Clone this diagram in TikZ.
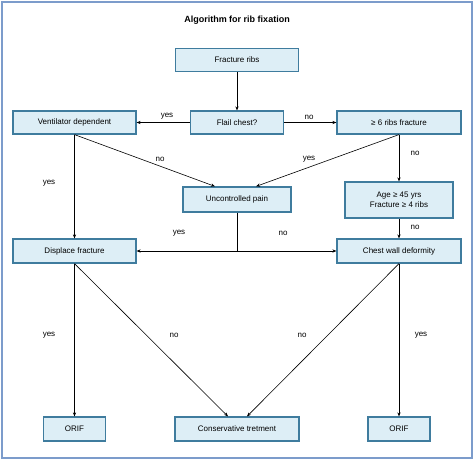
\documentclass[tikz,border=0pt]{standalone}
\usepackage{fontspec}
\setmainfont{Liberation Sans}
\usetikzlibrary{arrows.meta,calc}
\definecolor{boxfill}{HTML}{DDEEF6}
\definecolor{boxline}{HTML}{3F7C9E}
\definecolor{frameblue}{HTML}{7C9CCB}
\begin{document}
\begin{tikzpicture}[x=1pt,y=-1pt,
    box/.style={draw=boxline, fill=boxfill, line width=1.2pt, inner sep=0pt, font=\fontsize{8}{9.5}\selectfont, align=center},
    lab/.style={font=\fontsize{8}{9.5}\selectfont},
    arr/.style={-{Stealth[length=4pt,width=3.2pt]}, line width=0.6pt}]
    \useasboundingbox (0,0) rectangle (474,459);
    \draw[frameblue, line width=2pt] (1.5,1.5) rectangle (472.3,457.5);
    \node[font=\fontsize{9}{11}\selectfont\bfseries] (title) at (237,20) {Algorithm for rib fixation};
    % boxes
    \node[box, minimum width=123pt, minimum height=23pt] (frac) at (237,60) {Fracture ribs};
    \node[box, minimum width=93pt, minimum height=23pt] (flail) at (237,122.5) {Flail chest?};
    \node[box, minimum width=123pt, minimum height=23pt] (vent) at (74.5,122.5) {Ventilator dependent};
    \node[box, minimum width=124pt, minimum height=23pt] (six) at (399,122.5) {≥ 6 ribs fracture};
    \node[box, minimum width=108pt, minimum height=25pt] (pain) at (237,199.5) {Uncontrolled pain};
    \node[box, minimum width=108pt, minimum height=36pt] (age) at (399,200) {Age ≥ 45 yrs\\Fracture ≥ 4 ribs};
    \node[box, minimum width=123pt, minimum height=24pt] (disp) at (74.5,251) {Displace fracture};
    \node[box, minimum width=124pt, minimum height=24pt] (chest) at (399,251) {Chest wall deformity};
    \node[box, minimum width=62pt, minimum height=24pt] (orifl) at (74.5,429) {ORIF};
    \node[box, minimum width=124pt, minimum height=24pt] (cons) at (237,429) {Conservative tretment};
    \node[box, minimum width=62pt, minimum height=24pt] (orifr) at (399,429) {ORIF};
    % connectors
    \draw[arr] (frac) -- (flail);
    \draw[arr] (flail) -- (vent);
    \draw[arr] (flail) -- (six);
    \draw[arr] (vent) -- (disp);
    \draw[arr] (vent.south) -- ($(pain.north)+(-22,0)$);
    \draw[arr] (six.south) -- ($(pain.north)+(19,0)$);
    \draw[arr] (six) -- (age);
    \draw[arr] (age) -- (chest);
    \coordinate (split) at (pain.south |- disp.east);
    \draw[line width=0.6pt] (pain.south) -- (split);
    \draw[arr] (split) -- (disp.east);
    \draw[arr] (split) -- (chest.west);
    \draw[arr] (disp) -- (orifl);
    \draw[arr] (disp.south) -- ($(cons.north)+(-9,0)$);
    \draw[arr] (chest.south) -- ($(cons.north)+(10,0)$);
    \draw[arr] (chest) -- (orifr);
    % labels
    \node[lab] (y1) at (167,116) {yes};
    \node[lab] (n1) at (309,117) {no};
    \node[lab] (n2) at (160,159) {no};
    \node[lab] (y2) at (309,159) {yes};
    \node[lab] (y3) at (49,183) {yes};
    \node[lab] (n3) at (415,153) {no};
    \node[lab] (n4) at (415,227) {no};
    \node[lab] (y4) at (179,233) {yes};
    \node[lab] (n5) at (283,233) {no};
    \node[lab] (y5) at (49,335) {yes};
    \node[lab] (n6) at (174,335) {no};
    \node[lab] (n7) at (302,335) {no};
    \node[lab] (y6) at (421,335) {yes};
\end{tikzpicture}
\end{document}
